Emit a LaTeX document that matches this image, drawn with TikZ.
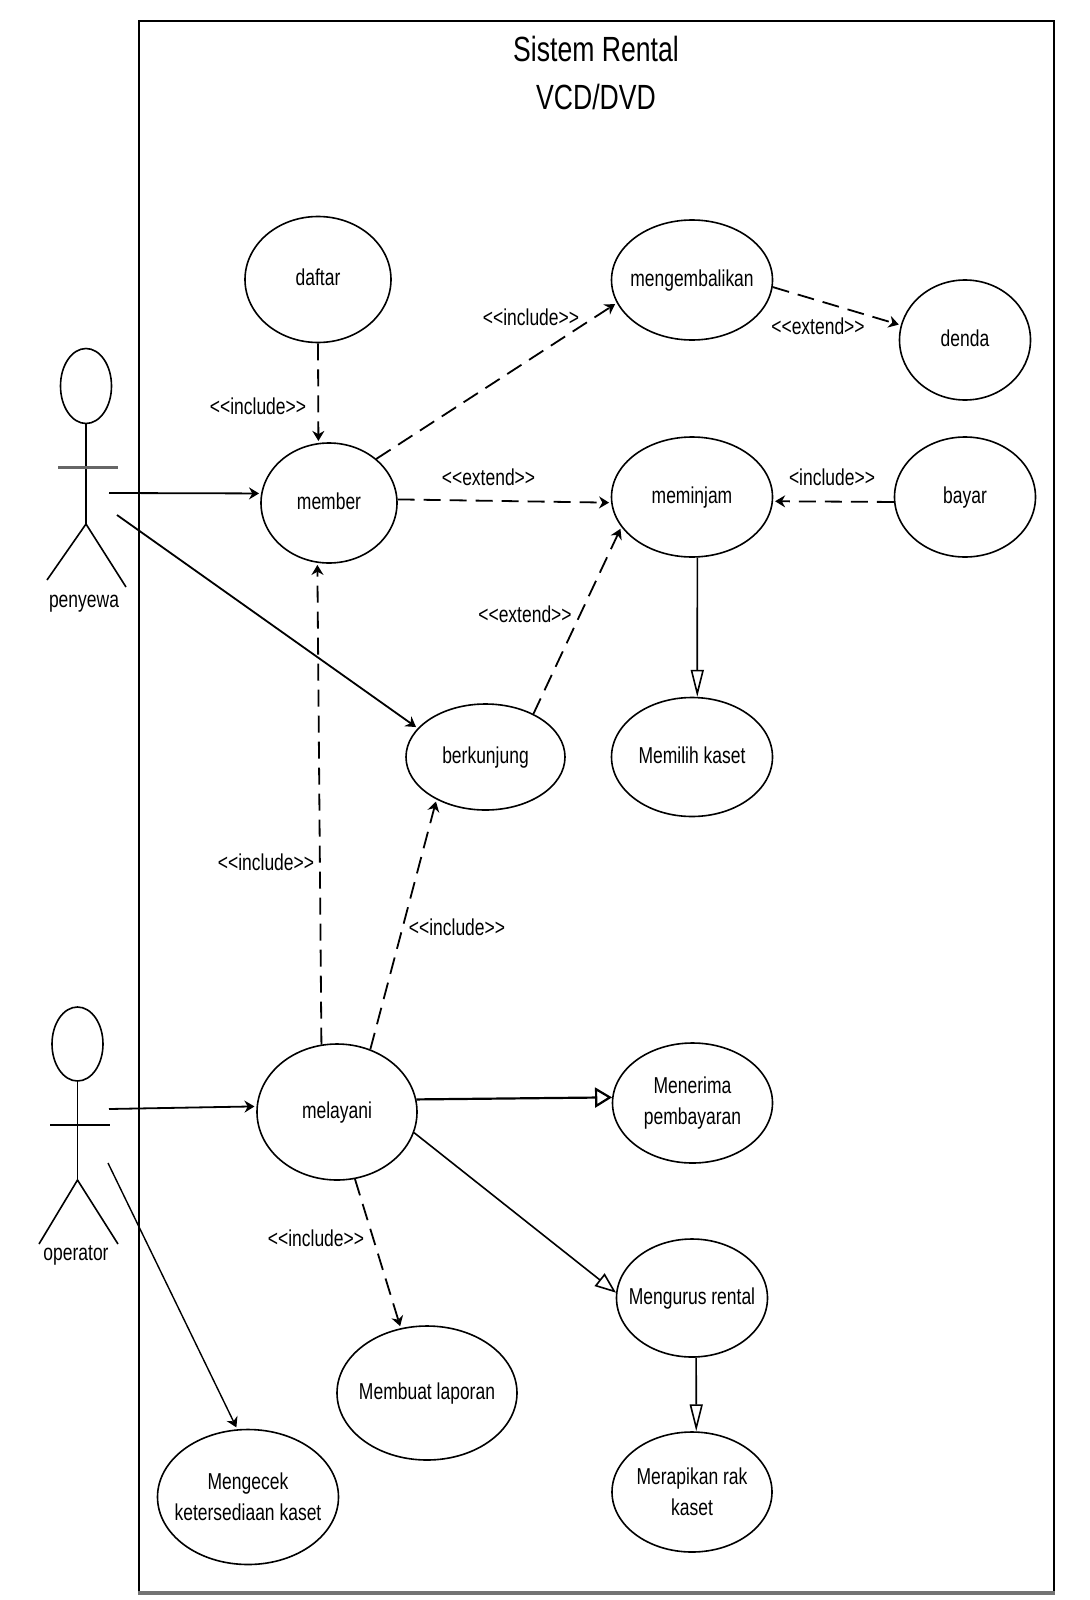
\documentclass[tikz,border=0pt]{standalone}
\usepackage{fontspec}
\setmainfont{Liberation Sans}[FakeStretch=0.76]
\usetikzlibrary{shapes.geometric,arrows.meta}
\newcommand{\kk}{<\kern0pt<}
\newcommand{\kn}{>\kern0pt>}
\begin{document}
\begin{tikzpicture}[x=1pt, y=-1pt]
\tikzset{ucase/.style 2 args={shape=ellipse, draw, line width=1.6pt, minimum width=#1pt, minimum height=#2pt, inner sep=-30pt, align=center, font=\fontsize{23}{30.5}\selectfont}}
\tikzset{uline/.style={text height=17pt, text depth=5pt}}
\tikzset{ulabel/.style={inner sep=0pt, font=\fontsize{23}{28}\selectfont}}
\tikzset{uactor/.style={line width=1.6pt}}
\tikzset{uassoc/.style={-{Stealth[length=10pt, width=12pt]}, line width=1.8pt, shorten >=2pt}}
\tikzset{udep/.style={uassoc, dash pattern=on 17pt off 9pt}}
\tikzset{ugen/.style 2 args={-{Triangle[open, length=#1pt, width=#2pt, fill=white]}, line width=1.6pt}}
\useasboundingbox (0,0) rectangle (1089,1600);
% system boundary
\node (sistem) [draw, line width=1.8pt, minimum width=915pt, minimum height=1571pt, inner sep=0pt] at (596.5,806.5) {};
\draw[line width=4pt, black!55] (sistem.south west) -- (sistem.south east);
\node (judul) [align=center, inner sep=0pt, font=\fontsize{35}{48}\selectfont] at (596,73) {Sistem Rental\\VCD/DVD};
% use cases
\node (daftar)  [ucase={146}{126}, uline] at (318,279.5) {daftar};
\node (kembali) [ucase={161}{120}, uline] at (692,280)   {mengembalikan};
\node (denda)   [ucase={131}{120}, uline] at (965,340)   {denda};
\node (member)  [ucase={136}{120}, uline] at (329,503)   {member};
\node (pinjam)  [ucase={161}{120}, uline] at (692,497)   {meminjam};
\node (bayar)   [ucase={141}{120}, uline] at (965,497)   {bayar};
\node (kunjung) [ucase={159}{106}, uline] at (485.5,757) {berkunjung};
\node (pilih)   [ucase={161}{119}, uline] at (692,757)   {Memilih kaset};
\node (layani)  [ucase={160}{136}, uline] at (337,1112)  {melayani};
\node (terima)  [ucase={160}{120}] at (692.5,1103)  {Menerima\\pembayaran};
\node (urus)    [ucase={151}{118}, uline] at (692,1298) {Mengurus rental};
\node (lapor)   [ucase={180}{134}, uline] at (427,1393)  {Membuat laporan};
\node (cek)     [ucase={181}{135}] at (248,1497)  {Mengecek\\ketersediaan kaset};
\node (rapi)    [ucase={160}{120}] at (692,1492) {Merapikan rak\\kaset};
% actor penyewa
\node (kepala1) [ucase={51}{75}] at (86,386) {};
\coordinate (pinggul1) at (86,524);
\coordinate (tangan1a) at (58,467);
\coordinate (tangan1b) at (118,467);
\coordinate (kaki1a) at (47,580);
\coordinate (kaki1b) at (126,587);
\draw[uactor] (kepala1.south) -- (pinggul1);
\draw[line width=3pt, black!60] (tangan1a) -- (tangan1b);
\draw[uactor] (kaki1a) -- (pinggul1) -- (kaki1b);
\node (penyewa) [ulabel] at (84,604) {penyewa};
% actor operator
\node (kepala2) [ucase={51}{74}] at (77.5,1044) {};
\coordinate (pinggul2) at (77.5,1180);
\coordinate (tangan2a) at (50,1125);
\coordinate (tangan2b) at (110,1125);
\coordinate (kaki2a) at (39,1244);
\coordinate (kaki2b) at (118,1244);
\draw[uactor] (kepala2.south) -- (pinggul2);
\draw[uactor] (tangan2a) -- (tangan2b);
\draw[uactor] (kaki2a) -- (pinggul2) -- (kaki2b);
\node (operator) [ulabel] at (76,1255) {operator};
% free ends at the actors
\coordinate (p1) at (109,493);
\coordinate (p2) at (117,515);
\coordinate (o1) at (109,1109);
\coordinate (o2) at (108,1163);
% associations
\draw[uassoc] (p1) -- (member.172);
\draw[uassoc] (p2) -- (kunjung.157);
\draw[uassoc] (o1) -- (layani.176);
\draw[uassoc, line width=1.4pt] (o2) -- (cek.99);
% include and extend
\draw[udep] (daftar.south) -- (member.100);
\draw[udep] (member.43) -- (kembali.197);
\draw[udep] (kembali.-5) -- (denda.167);
\draw[udep] (member.3) -- (pinjam.184);
\draw[udep] (bayar.184) -- (pinjam.357);
\draw[udep] (kunjung.42) -- (pinjam.203);
\draw[udep] (layani.103) -- (member.259);
\draw[udep] (layani.62) -- (kunjung.221);
\draw[udep] (layani.-75) -- (lapor.112);
% generalisations
\draw[ugen={27}{13}] (pinjam.275) -- (pilih.85);
\draw[ugen={17}{20}, line width=2.2pt] (layani.9) -- (terima.176);
\draw[ugen={21}{16}] (layani.-15) -- (urus.176);
\draw[ugen={27}{13}] (urus.-86) -- (rapi.86);
% stereotypes
\node (l1) [ulabel] at (258,406)   {\kk include\kn};
\node (l2) [ulabel] at (531,317)   {\kk include\kn};
\node (l3) [ulabel] at (818,326)   {\kk extend\kn};
\node (l4) [ulabel] at (488.5,477) {\kk extend\kn};
\node (l5) [ulabel] at (832,477)   {<include\kn};
\node (l6) [ulabel] at (525,614)   {\kk extend\kn};
\node (l7) [ulabel] at (266,862.5) {\kk include\kn};
\node (l8) [ulabel] at (457,927)   {\kk include\kn};
\node (l9) [ulabel] at (316,1238)  {\kk include\kn};
\end{tikzpicture}
\end{document}
